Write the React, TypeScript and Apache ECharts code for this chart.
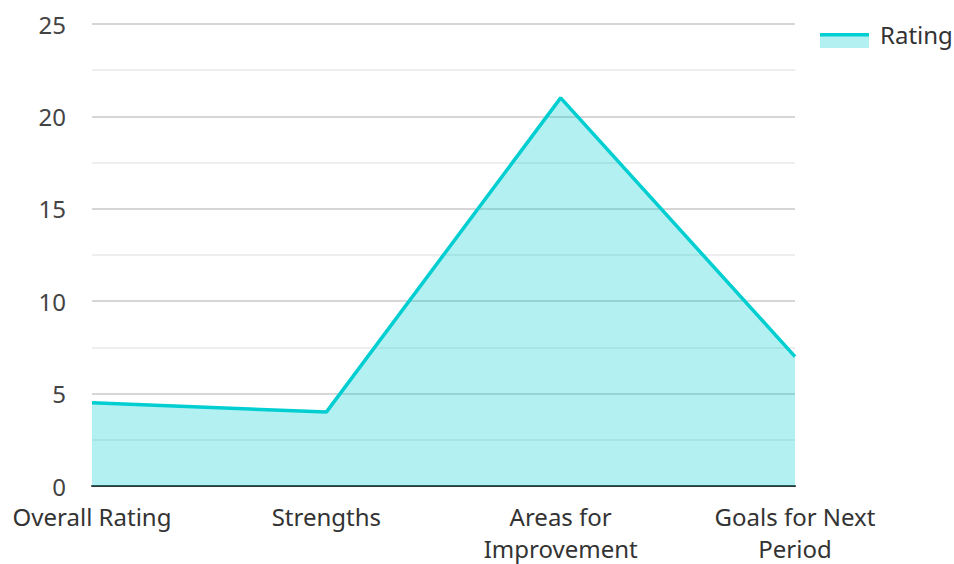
import React, { useEffect, useRef } from "react";
import * as echarts from "echarts";

const categories = ["Overall Rating", "Strengths", "Areas for\nImprovement", "Goals for Next\nPeriod"];
const ratingValues = [4.5, 4, 21, 7];
const seriesName = "Rating";
const lineColor = "#00CED1";
const areaColor = "rgba(0, 206, 209, 0.3)";

export default function App() {
  const ref = useRef<HTMLDivElement>(null);
  useEffect(() => {
    if (!ref.current) return;
    const chart = echarts.init(ref.current, null, { renderer: "svg" });
    chart.setOption({
      animation: false,
      textStyle: { fontFamily: "Noto Sans" },
      grid: { left: 92, right: 159, top: 24, bottom: 74 },
      legend: {
        data: [{ name: seriesName, icon: "rect" }],
        left: 816,
        top: 17,
        padding: 5,
        itemWidth: 49,
        itemHeight: 15,
        itemGap: 10,
        itemStyle: { color: "rgba(0,0,0,0)", borderWidth: 0 },
        textStyle: { fontSize: 24, color: "#333", fontFamily: "Noto Sans", padding: [0, 0, 0, 5] },
      },
      graphic: [
        {
          type: "rect",
          left: 820,
          top: 33,
          shape: { width: 49, height: 15 },
          style: { fill: areaColor },
          silent: true,
          z: 100,
        },
        {
          type: "rect",
          left: 820,
          top: 33,
          shape: { width: 49, height: 3.5 },
          style: { fill: lineColor },
          silent: true,
          z: 101,
        },
      ],
      xAxis: {
        type: "category",
        data: categories,
        boundaryGap: false,
        axisLine: { show: true, lineStyle: { color: "#333", width: 2 } },
        axisTick: { show: false },
        axisLabel: {
          fontSize: 24,
          color: "#333",
          margin: 14,
          lineHeight: 32,
          fontFamily: "Noto Sans",
          interval: 0,
        },
        splitLine: { show: false },
      },
      yAxis: {
        type: "value",
        min: 0,
        max: 25,
        interval: 5,
        axisLine: { show: false },
        axisTick: { show: false },
        axisLabel: { fontSize: 24, color: "#444", margin: 26, lineHeight: 20, fontFamily: "Noto Sans" },
        splitLine: { show: true, lineStyle: { color: "#c8c8c8", width: 1.5 } },
        minorTick: { show: false, splitNumber: 2 },
        minorSplitLine: { show: true, lineStyle: { color: "#e8e8e8", width: 1.5 } },
      },
      series: [
        {
          name: seriesName,
          type: "line",
          data: ratingValues,
          symbol: "none",
          lineStyle: { color: lineColor, width: 3.5 },
          itemStyle: { color: lineColor },
          areaStyle: { color: areaColor, opacity: 1 },
        },
      ],
    });
    return () => chart.dispose();
  }, []);
  return <div ref={ref} style={{ position: "absolute", left: 0, top: 0, width: 954, height: 564 }} />;
}
